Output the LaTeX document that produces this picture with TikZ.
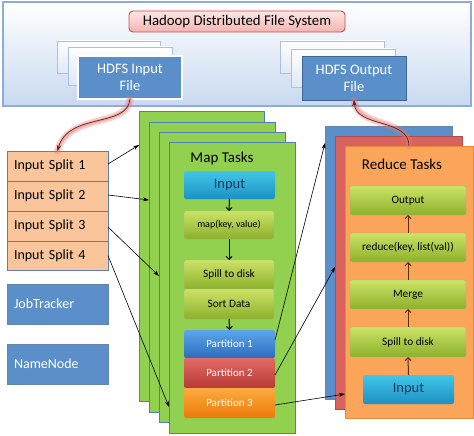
\documentclass[tikz,border=0pt]{standalone}
\usepackage{fontspec}
\setmainfont{Carlito}
\usetikzlibrary{arrows.meta}
\definecolor{hdfsbd}{HTML}{8FAADC}
\definecolor{hdfsbg}{HTML}{C9D9F1}
\definecolor{ttlbd}{HTML}{C0504D}
\definecolor{ttltop}{HTML}{FDE6E4}
\definecolor{ttlbot}{HTML}{F4B4B0}
\definecolor{fileblue}{HTML}{5B8FC9}
\definecolor{filebd}{HTML}{3E6699}
\definecolor{sheetbd}{HTML}{A9BFE3}
\definecolor{peach}{HTML}{FAC59A}
\definecolor{splitbd}{HTML}{5C7DB3}
\definecolor{mgreen}{HTML}{92D050}
\definecolor{mgbd}{HTML}{4F7FB8}
\definecolor{gtop}{HTML}{CBE366}
\definecolor{gbot}{HTML}{8DB02C}
\definecolor{ctop}{HTML}{40C6E8}
\definecolor{cbot}{HTML}{1C91C3}
\definecolor{ctext}{HTML}{1F3864}
\definecolor{p1top}{HTML}{5CA6EA}
\definecolor{p1bot}{HTML}{2D6CBD}
\definecolor{p2top}{HTML}{E26A64}
\definecolor{p2bot}{HTML}{B73A35}
\definecolor{p3top}{HTML}{FDAA40}
\definecolor{p3bot}{HTML}{EC7A0A}
\definecolor{rblue}{HTML}{5B8FC9}
\definecolor{rred}{HTML}{D9625E}
\definecolor{rorange}{HTML}{FAA55A}
\definecolor{rorbd}{HTML}{E58A35}
\definecolor{brown}{HTML}{5A2E12}
\definecolor{glow}{HTML}{E8787A}
\begin{document}
\begin{tikzpicture}[x=1pt,y=-1pt,
  box/.style={anchor=north west,inner sep=0pt,outer sep=0pt,align=center},
  hdfsframe/.style={box,draw=hdfsbd,line width=1.2pt,top color=white,bottom color=hdfsbg},
  ttl/.style={box,draw=ttlbd,line width=0.9pt,rounded corners=4pt,top color=ttltop,bottom color=ttlbot,font=\fontsize{14.8}{17}\selectfont},
  papersheet/.style={box,draw=sheetbd,line width=0.8pt,top color=white,bottom color=hdfsbg!60},
  hfile/.style={box,fill=fileblue,text=white,font=\fontsize{14.5}{17}\selectfont},
  split/.style={box,fill=peach,draw=splitbd,line width=0.8pt,text width=87pt,inner xsep=7pt,align=left,font=\fontsize{14}{16}\selectfont},
  bluebox/.style={box,fill=fileblue,draw=filebd!80,line width=0.8pt,text=white,text width=87pt,inner xsep=7pt,align=left,font=\fontsize{14}{16}\selectfont},
  gsheet/.style={box,fill=mgreen,draw=mgbd,line width=1pt},
  gbox/.style={box,rounded corners=2pt,top color=gtop,bottom color=gbot,draw=gbot!80!black!60,line width=0.3pt,font=\fontsize{11.3}{13}\selectfont},
  cbox/.style={box,rounded corners=2pt,top color=ctop,bottom color=cbot,text=ctext,font=\fontsize{14.5}{17}\selectfont},
  pbox/.style={box,rounded corners=2pt,text=white,font=\fontsize{11}{13}\selectfont},
  tasklabel/.style={font=\fontsize{15}{17}\selectfont,inner sep=0pt},
  conn/.style={line width=0.6pt,-{Stealth[length=6pt,width=4pt]}},
  marr/.style={line width=1pt,-{Straight Barb[length=3pt,width=6pt]}},
  rarr/.style={line width=1pt,brown,-{Straight Barb[length=3pt,width=6pt]}},
  glowline/.style={line width=7pt,glow,opacity=0.35,line cap=round},
  glowcore/.style={line width=3pt,glow,opacity=0.45,line cap=round},
  curvearr/.style={line width=0.7pt,brown,-{Stealth[length=6pt,width=4.5pt]}}
]
\useasboundingbox (0,0) rectangle (474,436);

% HDFS frame
\node[hdfsframe,minimum width=468pt,minimum height=104pt] (hdfs) at (3,2) {};
\node[ttl,minimum width=216pt,minimum height=21pt] (title) at (129,11) {Hadoop Distributed File System};

% HDFS input file stack
\node[papersheet,minimum width=103pt,minimum height=32pt] (hin1) at (57,41) {};
\node[papersheet,minimum width=104pt,minimum height=38pt] (hin2) at (68,47) {};
\node[hfile,draw=white,line width=1.5pt,minimum width=104pt,minimum height=43pt] (hin) at (78,56) {HDFS Input\\File};

% HDFS output file stack
\node[papersheet,minimum width=104pt,minimum height=32pt] (hout1) at (280,41) {};
\node[papersheet,minimum width=104pt,minimum height=38pt] (hout2) at (291,49) {};
\node[hfile,draw=filebd,line width=0.9pt,minimum width=104pt,minimum height=44pt] (hout) at (302,56) {HDFS Output\\File};

% Input splits
\node[split,minimum height=30pt] (s1) at (7,151) {Input Split 1};
\node[split,minimum height=30pt] (s2) at (7,181) {Input Split 2};
\node[split,minimum height=30pt] (s3) at (7,211) {Input Split 3};
\node[split,minimum height=29pt] (s4) at (7,241) {Input Split 4};

\node[bluebox,minimum height=40pt] (jt) at (7,284) {JobTracker};
\node[bluebox,minimum height=40pt] (nn) at (7,344) {NameNode};

% Map task sheets
\node[gsheet,minimum width=125pt,minimum height=290pt] (m1) at (139,111) {};
\node[gsheet,minimum width=126pt,minimum height=290pt] (m2) at (149,122) {};
\node[gsheet,minimum width=126pt,minimum height=290pt] (m3) at (159,132) {};
\node[gsheet,minimum width=126pt,minimum height=291pt] (m4) at (169,142) {};
\node[tasklabel] (mt) at (222,159) {Map Tasks};

\node[cbox,minimum width=91pt,minimum height=28pt] (min) at (184,171) {Input};
\node[gbox,minimum width=90pt,minimum height=28pt,font=\fontsize{10}{12}\selectfont] (map) at (184,211) {map(key, value)};
\node[gbox,minimum width=90pt,minimum height=29pt] (spill) at (184,260) {Spill to disk};
\node[gbox,minimum width=90pt,minimum height=30pt] (sort) at (184,289) {Sort Data};
\node[pbox,top color=p1top,bottom color=p1bot,minimum width=91pt,minimum height=28pt] (p1) at (184,330) {Partition 1};
\node[pbox,top color=p2top,bottom color=p2bot,minimum width=91pt,minimum height=30pt] (p2) at (184,358) {Partition 2};
\node[pbox,top color=p3top,bottom color=p3bot,minimum width=91pt,minimum height=30pt] (p3) at (184,388) {Partition 3};

\draw[marr] (min.south) -- (map.north);
\draw[marr] (map.south) -- (spill.north);
\draw[marr] (sort.south) -- (p1.north);

% Reduce task sheets
\node[box,fill=rblue,draw=filebd!80,line width=0.8pt,minimum width=127pt,minimum height=273pt] (r1) at (325,126) {};
\node[box,fill=rred,draw=rred!80!black,line width=0.8pt,minimum width=127pt,minimum height=273pt] (r2) at (335,136) {};
\node[box,fill=rorange,draw=rorbd,line width=0.8pt,minimum width=128pt,minimum height=272pt] (r3) at (345,146) {};
\node[tasklabel] (rt) at (402,164) {Reduce Tasks};

\node[gbox,minimum width=116pt,minimum height=29pt] (out) at (350,186) {Output};
\node[gbox,minimum width=116pt,minimum height=29pt] (red) at (350,233) {reduce(key, list(val))};
\node[gbox,minimum width=116pt,minimum height=29pt] (merge) at (350,280) {Merge};
\node[gbox,minimum width=116pt,minimum height=30pt] (rspill) at (350,327) {Spill to disk};
\node[cbox,minimum width=91pt,minimum height=29pt] (rin) at (363,375) {Input};

\draw[rarr] (rin.north) -- (rspill.south);
\draw[rarr] (rspill.north) -- (merge.south);
\draw[rarr] (merge.north) -- (red.south);
\draw[rarr] (red.north) -- (out.south);

% connectors splits -> map sheets
\coordinate (a1) at (139,145);
\coordinate (a2) at (149,200);
\coordinate (a3) at (159,276);
\coordinate (a4) at (169,407);
\draw[conn] (s1.east) ++(0,-2) -- (a1);
\draw[conn] (s2.east) ++(0,-1) -- (a2);
\draw[conn] (s3.east) ++(0,1) -- (a3);
\draw[conn] (s4.east) ++(0,0) -- (a4);

% partitions -> reduce sheets
\coordinate (b1) at (325,143);
\coordinate (b2) at (335,267);
\coordinate (b3) at (345,394);
\draw[conn] (p1.east) ++(0,-4) -- (b1);
\draw[conn] (p2.east) ++(0,2) -- (b2);
\draw[conn] (p3.east) ++(0,2) -- (b3);

% curved glow arrows
\draw[glowline] (hin.south) .. controls (128,128) and (68,112) .. (s1.north);
\draw[glowcore] (hin.south) .. controls (128,128) and (68,112) .. (s1.north);
\draw[curvearr] (hin.south) .. controls (128,128) and (68,112) .. (s1.north);

\draw[glowline] (r3.north) .. controls (409,118) and (356,128) .. (hout.south);
\draw[glowcore] (r3.north) .. controls (409,118) and (356,128) .. (hout.south);
\draw[curvearr] (r3.north) .. controls (409,118) and (356,128) .. (hout.south);
\end{tikzpicture}
\end{document}
